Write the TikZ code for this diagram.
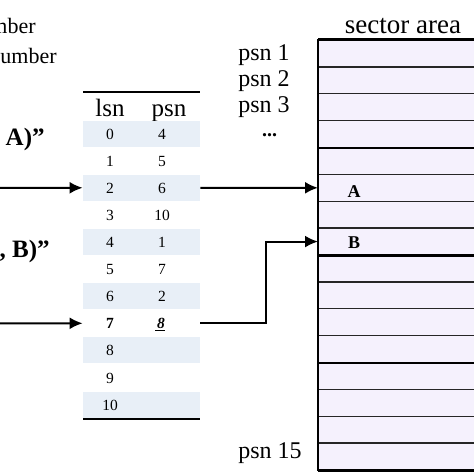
\documentclass[tikz,border=0pt]{standalone}
\usepackage{fontspec}
\setmainfont{Liberation Serif}
\newfontfamily\tabfont{Liberation Serif}
\usetikzlibrary{arrows.meta}
\definecolor{bandblue}{RGB}{232,239,247}
\definecolor{sectorlilac}{RGB}{245,241,253}

\begin{document}
\begin{tikzpicture}
            [x=1pt,y=-1pt,thick,every node/.style={inner sep=0pt},
             link/.style={line width=2pt,-{Latex[length=13pt,width=12pt]}},
             sectorrow/.style={draw=black!85,line width=1.3pt,fill=sectorlilac,minimum width=180pt,minimum height=26.875pt,anchor=west},
             tabrow/.style={minimum width=117pt,minimum height=26pt},
             cell/.style={font=\tabfont\fontsize{15.5}{15.5}\selectfont,text height=11pt,text depth=0pt},
             lbl/.style={font=\fontsize{24}{24}\selectfont,anchor=base west}]
            \useasboundingbox (0,0) rectangle (474,474);
            \clip (0,0) rectangle (474,474);

            % sector area
            \node[font=\fontsize{27}{27}\selectfont,anchor=base] (title) at (403,33) {sector area};
            \foreach \i in {1,...,16}
                \node[sectorrow] (s\i) at (318,{40+(\i-0.5)*26.875}) {};
            \draw[line width=2.5pt] (s1.north west) -- (s1.north east);
            \foreach \k in {4,8,12,16}
                \draw[line width=2.5pt] (s\k.south west) -- (s\k.south east);
            \draw[line width=2.2pt] (s1.north west) -- (s16.south west);
            \node[font=\tabfont\bfseries\fontsize{18}{18}\selectfont,text height=12pt,text depth=0pt] (secA) at (354,191) {A};
            \node[font=\tabfont\bfseries\fontsize{18}{18}\selectfont,text height=12pt,text depth=0pt] (secB) at (354,242) {B};

            \node[lbl] (psn1) at (238,60) {psn 1};
            \node[lbl] (psn2) at (238,86) {psn 2};
            \node[lbl] (psn3) at (238,112) {psn 3};
            \node[font=\bfseries\fontsize{20}{20}\selectfont,anchor=base] (dots) at (269.5,136) {...};
            \node[lbl] (psn15) at (238,458) {psn 15};

            % mapping table
            \node[font=\fontsize{25}{25}\selectfont,anchor=base] (hlsn) at (110,116) {lsn};
            \node[font=\fontsize{25}{25}\selectfont,anchor=base] (hpsn) at (169,116) {psn};
            \foreach \r in {0,...,10} {
                \pgfmathtruncatemacro\shade{100*(1-mod(\r,2))}
                \node[tabrow,fill=bandblue!\shade] (r\r) at (141.5,{133.6+27.1*\r}) {};
            }
            \draw[line width=2.5pt] (83,92) -- (200,92);
            \draw[line width=2.5pt] (83,419) -- (200,419);
            \foreach \r in {0,...,6,8,9,10}
                \node[cell] (l\r) at (110,{133.6+27.1*\r}) {\r};
            \node[cell,font=\tabfont\bfseries\fontsize{15.5}{15.5}\selectfont] (l7) at (110,{133.6+27.1*7}) {7};
            \foreach \r/\v in {0/4,1/5,2/6,3/10,4/1,5/7,6/2}
                \node[cell] (p\r) at (162,{133.6+27.1*\r}) {\v};
            \node[cell,font=\tabfont\bfseries\itshape\fontsize{15.5}{15.5}\selectfont] (p7) at (160,{133.6+27.1*7}) {\underline{\kern2pt 8}};

            % requests on the left
            \node[font=\fontsize{22}{22}\selectfont,anchor=base east] (note1) at (36,33) {number};
            \node[font=\fontsize{22}{22}\selectfont,anchor=base east] (note2) at (57,63) {number};
            \node[font=\tabfont\bfseries\fontsize{25}{25}\selectfont,anchor=base east] (reqA) at (45,145) {A)”};
            \node[font=\tabfont\bfseries\fontsize{25}{25}\selectfont,anchor=base east] (reqB) at (50,257) {, B)”};
            \coordinate (inA) at (0,187.8);
            \coordinate (inB) at (0,323.3);

            \path [link] (inA) edge (r2.west);
            \path [link] (r2.east) edge (s6.west);
            \path [link] (inB) edge (r7.west);
            \draw [link] (r7.east) -- ++(66,0) |- (s8.west);
        \end{tikzpicture}
\end{document}
